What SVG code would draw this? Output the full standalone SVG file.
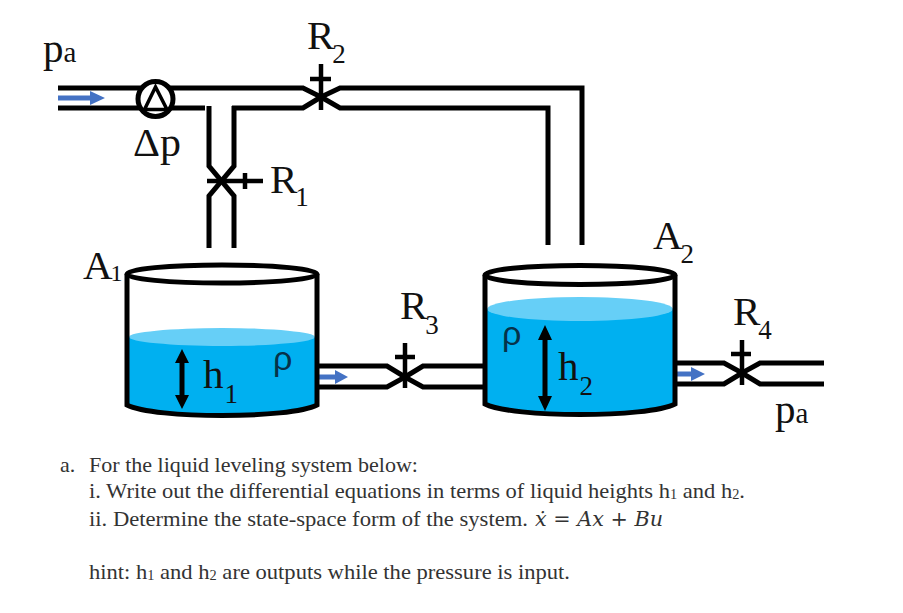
<svg xmlns="http://www.w3.org/2000/svg" width="903" height="613" viewBox="0 0 903 613">
<style>
.p{fill:none;stroke:#000;stroke-width:5}
.t{fill:none;stroke:#000;stroke-width:5}
.v{fill:none;stroke:#000;stroke-width:4.500}
.l{font-family:"Liberation Serif",serif;font-size:41px;fill:#111}
.s{font-size:27px;letter-spacing:0}
.n{letter-spacing:-2px}
.r{font-family:"Liberation Sans",sans-serif;font-size:34px;fill:#06324a}
.q{font-family:"Liberation Serif",serif;font-size:22px;fill:#333}
.m{font-size:14px}
.w{fill:#00b0f0}
.c{fill:#66cff7}
.b{fill:#4472c4}
</style>
<rect width="903" height="613" fill="#fff"/>
<g id="connectors">
<path class="p" d="M58 88H303L321 97L340 88H582V245"/>
<path class="p" d="M58 108H205"/>
<path class="p" d="M209 106V166L234 196V248"/>
<path class="p" d="M234 106V166L209 196V248"/>
<path class="p" d="M232 108H303L321 97L340 108H548V245"/>
<path class="p" d="M317 366H387L405 377L423 366H485"/>
<path class="p" d="M317 387H387L405 377L423 387H485"/>
<path class="p" d="M675 363H724L742 373L760 363H824"/>
<path class="p" d="M675 384H724L742 373L760 384H824"/>
<path class="b" d="M58 95.500H90V91L105 98L90 105V100.500H58Z"/>
<path class="b" d="M318 374.500H335V370L348 377L335 384V379.500H318Z"/>
<path class="b" d="M677 371.500H691V367L705 374L691 381V376.500H677Z"/>
</g>
<g id="pump">
<circle cx="155.500" cy="99" r="17.500" fill="#fff" stroke="#000" stroke-width="5"/>
<path d="M155.500 87L144.500 109.500H167Z" fill="none" stroke="#000" stroke-width="3.500"/>
<text class="l" x="133" y="156" style="font-size:40px" textLength="48" lengthAdjust="spacingAndGlyphs">Δp</text>
</g>
<g id="valve-r1">
<path class="v" d="M207 181H263M245 173V189"/>
<text class="l n" x="270" y="193">R<tspan class="s" dy="13">1</tspan></text>
</g>
<g id="valve-r2">
<path class="v" d="M321 64V110M310 79H331"/>
<text class="l n" x="307" y="49">R<tspan class="s" dy="14">2</tspan></text>
</g>
<g id="valve-r3">
<path class="v" d="M405 343V388M395 357H415"/>
<text class="l n" x="400" y="319">R<tspan class="s" dy="15">3</tspan></text>
</g>
<g id="valve-r4">
<path class="v" d="M742 340V385M731 354H751"/>
<text class="l n" x="733" y="325">R<tspan class="s" dy="14">4</tspan></text>
</g>
<g id="tank-1">
<path class="w" d="M127 337H317V405C290 419 154 419 127 405Z"/>
<ellipse class="c" cx="222" cy="337" rx="93" ry="9"/>
<path class="t" d="M127 274V405C154 419 290 419 317 405V274"/>
<ellipse cx="222" cy="274" rx="95" ry="9" fill="#fff" stroke="#000" stroke-width="5"/>
<path d="M182 349L189 363H184.500V395H189L182 409L175 395H179.500V363H175Z"/>
<text class="l n" x="83" y="279">A<tspan class="s" style="font-size:24px" dy="2">1</tspan></text>
<text class="l" x="203" y="388">h<tspan class="s" dy="15" dx="1">1</tspan></text>
<text class="r" x="273" y="370">ρ</text>
</g>
<g id="tank-2">
<path class="w" d="M485 309H675V404C648 418 512 418 485 404Z"/>
<ellipse class="c" cx="580" cy="309" rx="93" ry="12"/>
<path class="t" d="M485 275V404C512 418 648 418 675 404V275"/>
<ellipse cx="580" cy="275" rx="95" ry="9.500" fill="#fff" stroke="#000" stroke-width="5"/>
<path d="M545 325L552 340H547.500V396H552L545 411L538 396H542.500V340H538Z"/>
<text class="l n" x="653" y="249">A<tspan class="s" dy="14">2</tspan></text>
<text class="l" x="558" y="380">h<tspan class="s" dy="15" dx="1">2</tspan></text>
<text class="r" x="502" y="345">ρ</text>
</g>
<g id="pa-labels">
<text class="l" x="43" y="62">p<tspan style="font-size:29px">a</tspan></text>
<text class="l" x="775" y="423">p<tspan style="font-size:29px">a</tspan></text>
</g>
<g id="question">
<text class="q" x="60" y="472">a.</text>
<text class="q" x="89" y="472" textLength="329" lengthAdjust="spacingAndGlyphs">For the liquid leveling system below:</text>
<text class="q" x="89" y="498" textLength="656" lengthAdjust="spacingAndGlyphs">i. Write out the differential equations in terms of liquid heights h<tspan class="m" dy="1">1</tspan><tspan dy="-1"> and h</tspan><tspan class="m" dy="1">2</tspan><tspan dy="-1">.</tspan></text>
<text class="q" x="89" y="526" textLength="439" lengthAdjust="spacingAndGlyphs">ii. Determine the state-space form of the system.</text>
<text class="q" x="535" y="526" style="font-family:'DejaVu Serif',serif;font-size:20px;font-style:italic" textLength="128" lengthAdjust="spacingAndGlyphs">ẋ = Ax + Bu</text>
<text class="q" x="89" y="579" textLength="481" lengthAdjust="spacingAndGlyphs">hint: h<tspan class="m" dy="1">1</tspan><tspan dy="-1"> and h</tspan><tspan class="m" dy="1">2</tspan><tspan dy="-1"> are outputs while the pressure is input.</tspan></text>
</g>
</svg>
